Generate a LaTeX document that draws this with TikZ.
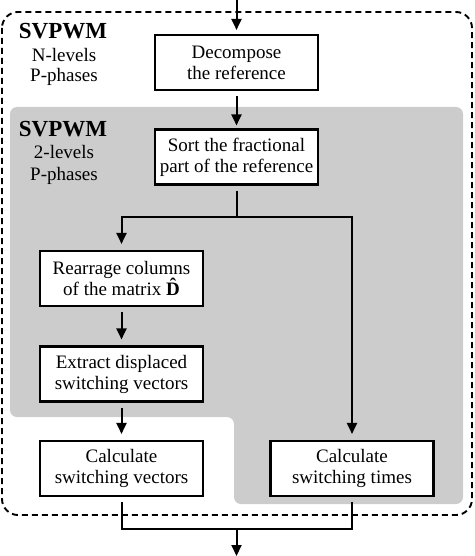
\documentclass[tikz,border=0pt]{standalone}
\usepackage{fontspec}
\setmainfont{Liberation Serif}
\usetikzlibrary{arrows.meta}
\definecolor{panel}{RGB}{204,204,204}
\newcommand{\Dhat}{\textbf{\ooalign{D\cr\hidewidth\raisebox{0.2em}{\char"02C6}\hidewidth\cr}}}
\begin{document}
\begin{tikzpicture}[x=1pt,y=-1pt,
  box/.style={draw, line width=2.1pt, fill=white, minimum width=163pt, minimum height=55pt, inner sep=0pt, align=center, font=\fontsize{19}{21}\selectfont},
  arr/.style={line width=2pt, -{Triangle[length=11pt,width=10pt]}},
  ln/.style={line width=2pt},
  ttl/.style={font=\fontsize{23}{25}\selectfont\bfseries, inner sep=0pt, anchor=base},
  sub/.style={font=\fontsize{19}{21}\selectfont, inner sep=0pt, anchor=base}]
\useasboundingbox (0,0) rectangle (474,556);
\fill[panel, rounded corners=7pt] (10,107) -- (463,107) -- (463,504) -- (234,504) -- (234,417) -- (10,417) -- cycle;
\draw[line width=1.9pt, dash pattern=on 6pt off 4pt, rounded corners=16pt] (2,12) rectangle (472,515);

\node[box] (dec) at (236.5,62.5) {Decompose\\the reference};
\node[box] (sort) at (236.5,157) {Sort the fractional\\part of the reference};
\node[box] (rea) at (121.5,278.5) {Rearrage columns\\of the matrix \Dhat};
\node[box] (ext) at (121.5,374) {Extract displaced\\switching vectors};
\node[box] (cv) at (121.5,468.5) {Calculate\\switching vectors};
\node[box] (ct) at (352,468.5) {Calculate\\switching times};

\node[ttl] (t1) at (63,39) {SVPWM};
\node[sub] (t1a) at (64,61.5) {N-levels};
\node[sub] (t1b) at (64,82) {P-phases};
\node[ttl] (t2) at (63,137) {SVPWM};
\node[sub] (t2a) at (64,159) {2-levels};
\node[sub] (t2b) at (64,180) {P-phases};

\coordinate (in) at (236.5,0);
\coordinate (j1) at (236.5,217);
\coordinate (j2) at (236.5,529);
\coordinate (out) at (236.5,556);
\draw[arr] (in) -- ([yshift=4pt]dec.north);
\draw[arr] ([yshift=-5pt]dec.south) -- ([yshift=3pt]sort.north);
\draw[ln] ([yshift=-5pt]sort.south) -- (j1);
\draw[arr] (j1) -| ([yshift=6pt]rea.north);
\draw[arr] (j1) -| ([yshift=6pt]ct.north);
\draw[arr] ([yshift=-5pt]rea.south) -- ([yshift=6pt]ext.north);
\draw[arr] ([yshift=-5pt]ext.south) -- ([yshift=6pt]cv.north);
\draw[ln] ([yshift=-5pt]cv.south) |- (j2);
\draw[ln] ([yshift=-5pt]ct.south) |- (j2);
\draw[arr] (j2) -- (out);
\end{tikzpicture}
\end{document}
